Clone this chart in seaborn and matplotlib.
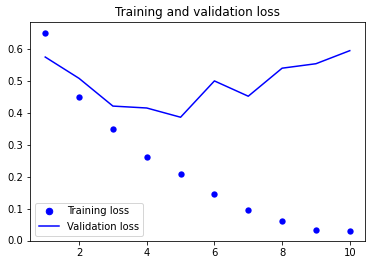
import matplotlib
matplotlib.use("Agg")
import matplotlib.pyplot as plt
from matplotlib.lines import Line2D
import seaborn as sns
import pandas as pd

epochs = [1, 2, 3, 4, 5, 6, 7, 8, 9, 10]
training_loss = [0.653, 0.449, 0.349, 0.263, 0.210, 0.147, 0.097, 0.062, 0.034, 0.030]
validation_loss = [0.576, 0.509, 0.422, 0.416, 0.387, 0.501, 0.453, 0.541, 0.555, 0.596]

df = pd.DataFrame({"epoch": epochs, "train": training_loss, "val": validation_loss})

plt.rcParams['font.family'] = ['DejaVu Sans']
fig = plt.figure(figsize=(375 / 72, 264 / 72), dpi=72)
ax = fig.add_axes([30 / 375, 1 - 240.5 / 264, 335 / 375, 218.5 / 264])

sns.scatterplot(data=df, x="epoch", y="train", ax=ax, color="b", s=40,
                linewidth=0, legend=False)
sns.lineplot(data=df, x="epoch", y="val", ax=ax, color="b", linewidth=1.5,
             legend=False)

ax.set_xlim(0.55, 10.45)
ax.set_ylim(0.0, 0.686)
ax.set_xticks([2, 4, 6, 8, 10])
ax.set_yticks([0.0, 0.1, 0.2, 0.3, 0.4, 0.5, 0.6])
ax.set_xlabel("")
ax.set_ylabel("")
ax.set_title("Training and validation loss", fontsize=12)
ax.tick_params(labelsize=10)

handles = [
    Line2D([], [], color="b", marker="o", linestyle="None", markersize=6.5),
    Line2D([], [], color="b", linewidth=1.5),
]
ax.legend(handles, ["Training loss", "Validation loss"], loc="lower left", fontsize=10)

fig.savefig("out.png", dpi=72)
